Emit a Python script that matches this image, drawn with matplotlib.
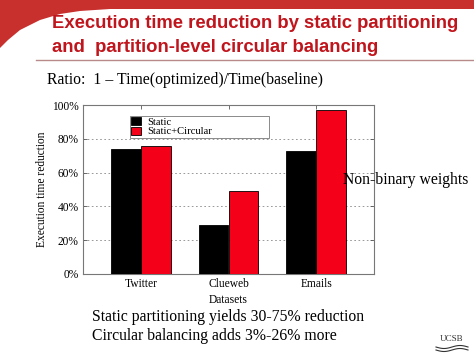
import matplotlib
matplotlib.use("Agg")
import matplotlib.pyplot as plt
from matplotlib.patches import Polygon
import numpy as np

categories = ["Twitter", "Clueweb", "Emails"]
static_vals = [74, 29, 73]
circular_vals = [76, 49, 97]
series_names = ["Static", "Static+Circular"]
yticks = [0, 20, 40, 60, 80, 100]

W, H = 474, 355
fig = plt.figure(figsize=(W / 100, H / 100), dpi=100)
fig.patch.set_facecolor("white")

def fx(x):
    return x / W

def fy(y):
    return 1 - y / H

# red banner with curve on the left
pts = [(0, 0), (474, 0), (474, 9), (110, 9), (80, 11), (60, 14), (40, 20),
       (20, 30), (8, 40), (0, 48)]
banner = Polygon([(fx(x), fy(y)) for x, y in pts], closed=True,
                 transform=fig.transFigure, facecolor="#c8302e", edgecolor="none")
fig.patches.append(banner)

# thin line under title
fig.add_artist(plt.Line2D([fx(36), fx(474)], [fy(60), fy(60)],
                          transform=fig.transFigure, color="#b88a8a", lw=1.0))

title_kw = dict(family="Liberation Sans", weight="bold", color="#c0151c",
                fontsize=13.3, ha="left", va="center")
fig.text(fx(52), fy(23), "Execution time reduction by static partitioning", **title_kw)
fig.text(fx(52), fy(47), "and  partition-level circular balancing", **title_kw)

serif = "Liberation Serif"
fig.text(fx(47), fy(80), "Ratio:  1 \u2013 Time(optimized)/Time(baseline)",
         family=serif, fontsize=11.3, ha="left", va="center")

ax = fig.add_axes([fx(83), fy(274), fx(374) - fx(83), fy(105) - fy(274)])
x = np.arange(len(categories))
bw = 0.34
ax.bar(x - bw / 2, static_vals, bw, color="black", edgecolor="black",
       linewidth=0.6, label=series_names[0], zorder=3)
ax.bar(x + bw / 2, circular_vals, bw, color="#f40018", edgecolor="black",
       linewidth=0.6, label=series_names[1], zorder=3)
ax.set_xlim(-0.66, 2.66)
ax.set_ylim(0, 100)
ax.set_yticks(yticks)
ax.set_yticklabels([f"{v}%" for v in yticks], family=serif, fontsize=8.3)
ax.set_xticks(x)
ax.set_xticklabels(categories, family=serif, fontsize=8.3)
ax.tick_params(axis="both", direction="in", length=3, width=0.6, top=True,
               right=True, pad=3, colors="#555555", labelcolor="black")
ax.yaxis.grid(True, linestyle=(0, (2, 3)), color="#888888", linewidth=0.6, zorder=0)
for s in ax.spines.values():
    s.set_color("#777777")
    s.set_linewidth(0.8)
ax.set_ylabel("Execution time reduction", family=serif, fontsize=8.3, labelpad=3)
ax.set_xlabel("Datasets", family=serif, fontsize=8.3, labelpad=3)

# legend box spans ~x 130-269 px, y 116-137 px
lx0 = (130 - 83) / (374 - 83)
lx1 = (269 - 83) / (374 - 83)
ly1 = (274 - 116) / (274 - 105)
ly0 = (274 - 137) / (274 - 105)
leg = ax.legend(loc="upper left", bbox_to_anchor=(lx0, ly0, lx1 - lx0, ly1 - ly0),
                mode="expand", prop={"family": serif, "size": 7.6},
                frameon=True, fancybox=False, edgecolor="#555555", borderpad=0.1,
                handlelength=0.9, handleheight=0.8, handletextpad=0.6, labelspacing=0.0,
                borderaxespad=0.0)
leg.get_frame().set_linewidth(0.6)

fig.text(fx(343), fy(180), "Non-binary weights", family=serif, fontsize=11.3,
         ha="left", va="center")

fig.text(fx(92), fy(317), "Static partitioning yields 30-75% reduction",
         family=serif, fontsize=11.3, ha="left", va="center")
fig.text(fx(92), fy(336), "Circular balancing adds 3%-26% more",
         family=serif, fontsize=11.3, ha="left", va="center")

fig.text(fx(452), fy(339), "UCSB", family=serif, fontsize=6.5, ha="center",
         va="center", color="#333333")
xs = np.linspace(436, 468, 30)
for off in (0, 3):
    ys = 347 + off + 1.5 * np.sin((xs - 436) / 32 * 2 * np.pi)
    fig.add_artist(plt.Line2D([fx(v) for v in xs], [fy(v) for v in ys],
                              transform=fig.transFigure, color="#333333", lw=0.8))

fig.savefig("out.png", dpi=100)
